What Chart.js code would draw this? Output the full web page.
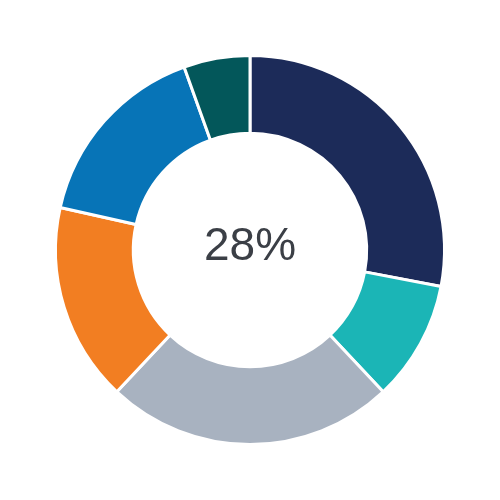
<!DOCTYPE html>
<html>
<head>
<meta charset="utf-8">
<script src="https://cdn.jsdelivr.net/npm/chart.js@4"></script>
<style>
  html, body { margin: 0; padding: 0; background: #fff; }
  #wrap { width: 500px; height: 500px; }
</style>
</head>
<body>
<div id="wrap"><canvas id="myChart" width="500" height="500"></canvas></div>
<script>
// segments clockwise from 12 o'clock
const labels = ["Navy", "Teal", "Gray", "Orange", "Blue", "Dark teal"];
const values = [28, 10, 24, 16.5, 16, 5.5];
const colors = ["#1c2b59", "#1bb5b6", "#a8b2c0", "#f27e22", "#0774b7", "#03575a"];
const centerText = "28%";

const centerLabel = {
	id: 'centerLabel',
	afterDraw(chart) {
		const ctx = chart.ctx;
		const meta = chart.getDatasetMeta(0).data[0];
		ctx.save();
		ctx.font = "46px 'Liberation Sans', Arial, sans-serif";
		ctx.fillStyle = "#3b3f46";
		ctx.textAlign = "center";
		ctx.textBaseline = "middle";
		ctx.fillText(centerText, meta.x, meta.y - 3);
		ctx.restore();
	}
};

const ctx = document.getElementById('myChart');
new Chart(ctx, {
	type: 'doughnut',
	data: {
		labels: labels,
		datasets: [{
			data: values,
			backgroundColor: colors,
			borderColor: "#ffffff",
			borderWidth: 3,
			hoverOffset: 0
		}]
	},
	options: {
		responsive: false,
		animation: false,
		cutout: '60%',
		layout: { padding: 54 },
		plugins: {
			legend: { display: false },
			tooltip: { enabled: false }
		}
	},
	plugins: [centerLabel]
});
</script>
</body>
</html>
